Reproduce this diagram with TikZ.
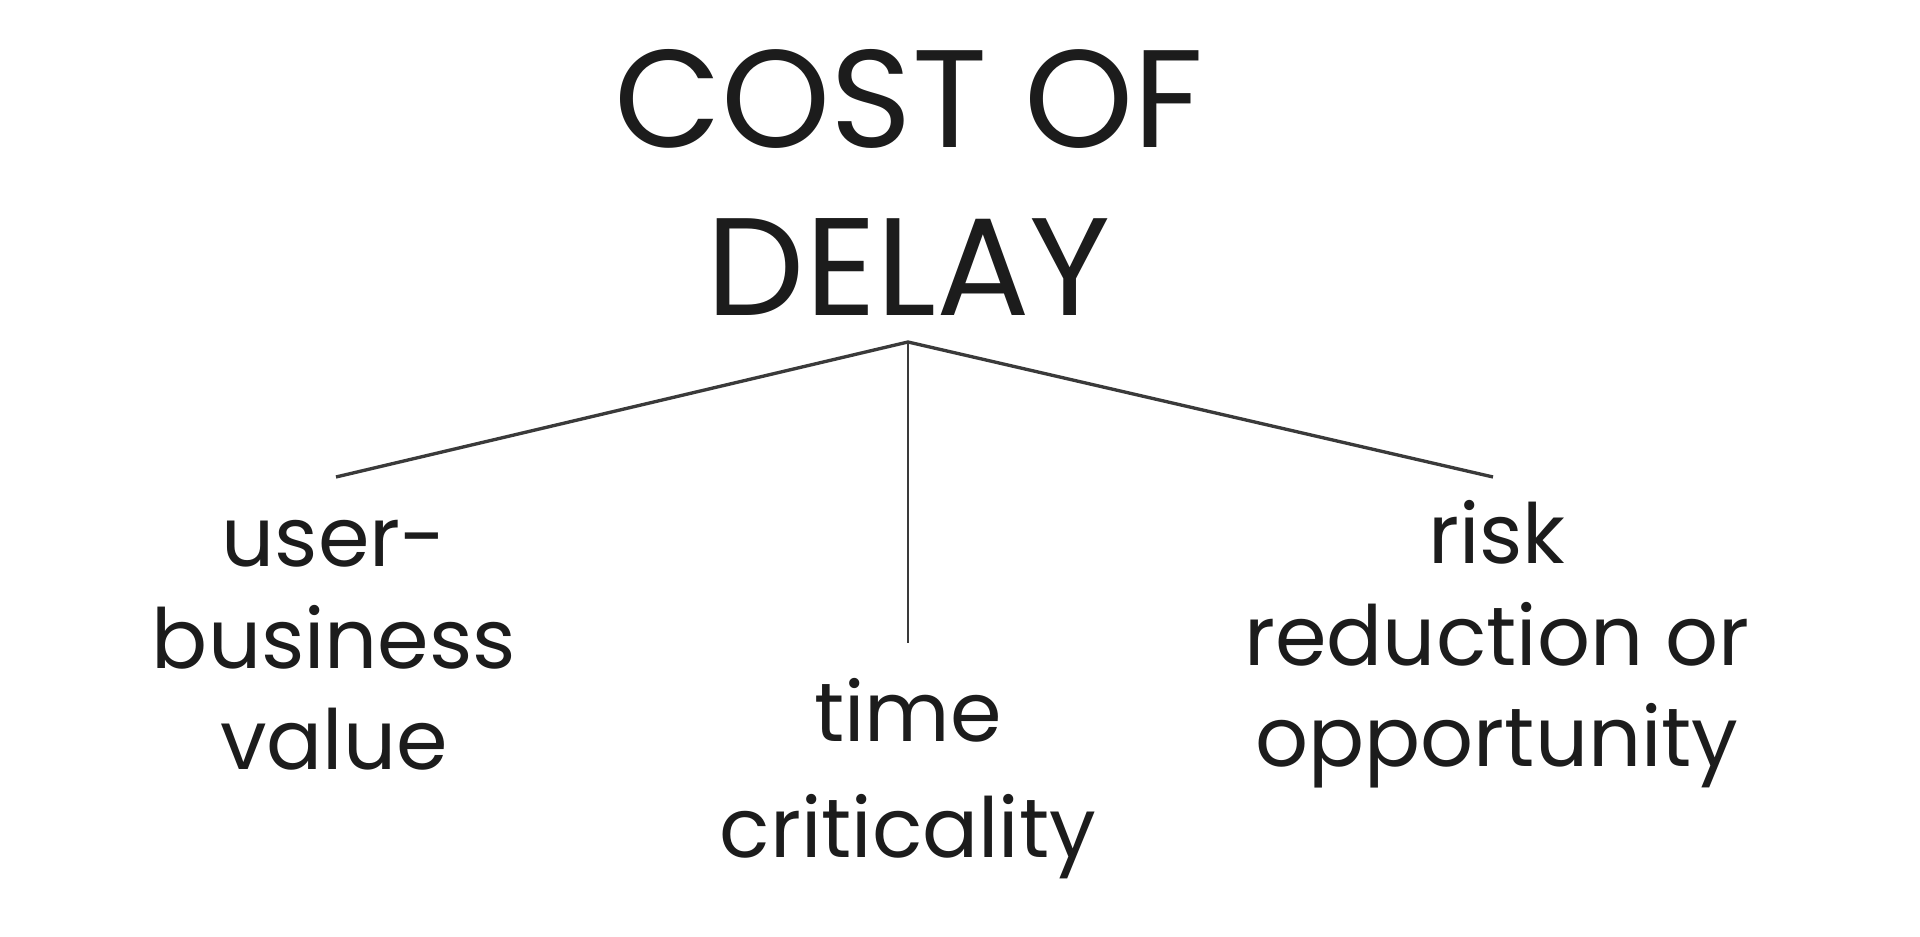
\documentclass[tikz,border=0pt]{standalone}
\usepackage{fontspec}
\setmainfont{Poppins}
\usetikzlibrary{positioning}
\definecolor{inkgray}{HTML}{1C1C1C}
\definecolor{linegray}{HTML}{3A3A3A}

\begin{document}
\begin{tikzpicture}[x = 0.01cm, y = -0.01cm]
\tikzstyle{TitleStyle}=[
text = inkgray,
inner sep = 0pt,
align = center,
font = \fontsize{39.5pt}{47.8pt}\selectfont]
\tikzstyle{LeafStyle}=[
text = inkgray,
inner sep = 0pt,
align = center,
font = \fontsize{23.6pt}{29pt}\selectfont]
\tikzstyle{EdgeStyle}=[
draw = linegray,
line width = 0.95pt]
\useasboundingbox[fill = white] (0,0) rectangle (1920,937);
% last line baselines
\node[TitleStyle, anchor = base] (title) at (909,316) {COST OF\\DELAY};
\coordinate (apex) at (908,342);
\coordinate (lefttip) at (336,477);
\coordinate (righttip) at (1493,477);
\coordinate (midtip) at (908,643);
\node[LeafStyle, anchor = base] (value) at (334,770) {user-\\business\\value};
\node[LeafStyle, anchor = base, font = \fontsize{23.6pt}{33pt}\selectfont] (time) at (908,858) {time\\criticality};
\node[LeafStyle, anchor = base] (risk) at (1497,767) {risk\\reduction or\\opportunity};
\draw[EdgeStyle] (lefttip) -- (apex) -- (righttip);
\draw[EdgeStyle, line width = 0.6pt] (apex) -- (midtip);
\end{tikzpicture}
\end{document}
